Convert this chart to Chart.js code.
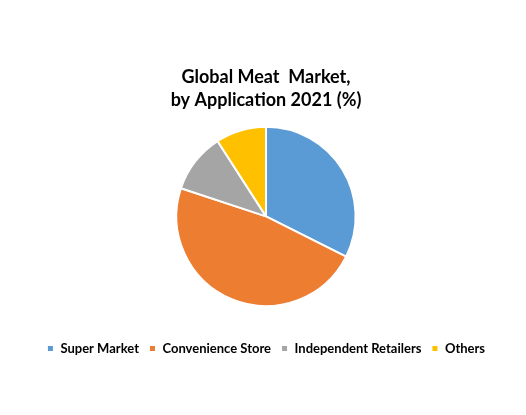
<!DOCTYPE html>
<html>
<head>
<meta charset="utf-8">
<script src="https://cdn.jsdelivr.net/npm/chart.js@4/dist/chart.umd.min.js"></script>
<style>
    html, body { margin: 0; padding: 0; background: #fff; }
    #wrap { width: 526px; height: 415px; position: relative; }
</style>
</head>
<body>
<div id="wrap"><canvas id="meatChart"></canvas></div>
<script>
// 資料
const categories = ['Super Market', 'Convenience Store', 'Independent Retailers', 'Others'];
const shares = [32.4, 47.7, 10.8, 9.1];
const sliceColors = ['#5B9BD5', '#ED7D31', '#A5A5A5', '#FFC000'];
const titleLines = ['Global Meat  Market,', 'by Application 2021 (%)'];

const ctx = document.getElementById('meatChart').getContext('2d');
const meatChart = new Chart(ctx, {
    type: 'pie',
    data: {
        labels: categories,
        datasets: [{
            data: shares,
            backgroundColor: sliceColors,
            borderColor: '#fff',
            borderWidth: 2
        }]
    },
    options: {
        responsive: true,
        maintainAspectRatio: false,
        animation: false,
        layout: {
            padding: { top: 65, bottom: 50, left: 6, right: 0 }
        },
        plugins: {
            title: {
                display: true,
                text: titleLines,
                color: '#000',
                font: { family: 'Lato', size: 18, weight: 'bold', lineHeight: 1.3 },
                padding: { top: 0, bottom: 14 }
            },
            legend: {
                position: 'bottom',
                // 空白標題，只用來拉開圖例和圓餅的距離
                title: {
                    display: true,
                    text: ' ',
                    font: { size: 10, lineHeight: 1 },
                    padding: { top: 15, bottom: 0 }
                },
                labels: {
                    boxWidth: 7,
                    boxHeight: 7,
                    padding: 10,
                    color: '#000',
                    font: { family: 'Lato', size: 13, weight: 'bold' }
                }
            },
            tooltip: { enabled: false }
        }
    }
});
</script>
</body>
</html>
